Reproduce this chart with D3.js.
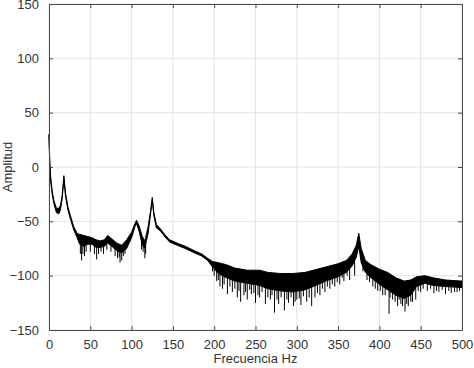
<!DOCTYPE html>
<html>
<head>
<meta charset="utf-8">
<script src="https://cdn.jsdelivr.net/npm/d3@7"></script>
<style>
  body { margin: 0; background: #fff; }
  svg text { font-family: "Liberation Sans", Arial, sans-serif; fill: #333; }
</style>
</head>
<body>
<div id="vis"></div>
<script>
var WIDTH = 474
var HEIGHT = 368

// spectrum envelope (Hz, upper dB, lower dB)
var freqs = [0, 1, 2, 4, 6, 9, 12, 14, 16, 18, 20, 23, 26, 30, 34, 37, 42, 47, 52, 57, 62, 67, 71, 76, 82, 88, 94, 100,
  104, 106, 109, 113, 116, 120, 123, 125, 127, 130, 135, 140, 146, 155, 165, 176, 185, 192, 198, 205, 215, 225, 240,
  255, 265, 280, 295, 310, 320, 335, 350, 360, 367, 372, 375, 378, 383, 390, 400, 410, 420, 430, 438, 445, 455, 465, 480, 500];
var upper = [30, 5, -9, -23, -31, -38, -38, -35, -26, -8, -24, -37, -45, -55, -61, -62, -63, -64, -65, -67, -68, -67, -63, -66, -70, -72, -67, -60,
  -52, -49, -54, -64, -68, -55, -40, -28, -42, -53, -57, -62, -67, -70, -73, -77, -80, -84, -87, -88, -90, -93, -95,
  -95, -97, -98, -98, -97, -95, -92, -89, -86, -80, -72, -61, -75, -86, -90, -94, -97, -102, -105, -104, -101, -100, -102, -104, -105];
var lower = [26, 1, -13, -26, -34, -42, -43, -39, -29, -11, -27, -40, -48, -58, -65, -71, -73, -71, -71, -74, -74, -73, -70, -73, -77, -79, -75, -65,
  -55, -52, -59, -72, -75, -61, -43, -31, -45, -56, -59, -64, -69, -72, -75, -79, -82, -86, -92, -98, -102, -105, -107,
  -109, -112, -114, -115, -113, -110, -105, -101, -97, -91, -83, -73, -88, -97, -102, -108, -113, -118, -121, -118, -110, -107, -109, -110, -111];

// downward noise spikes (Hz, depth dB)
var spikeFreq = [38, 39.5, 41, 43, 45, 50, 55, 57.7, 60, 63, 66, 70, 75, 80, 83, 85, 86, 88, 90, 92, 112, 114, 116, 117,
  198, 200, 203, 205, 207, 210, 212, 216, 219, 222, 225, 228, 230, 232, 236, 238, 240, 243, 245, 248, 250, 253, 255, 258,
  262, 265, 268, 270, 273, 276, 278, 281, 285, 288, 290, 293, 296, 298, 300, 303, 305, 308, 312, 315, 318, 322, 325,
  328, 331, 334, 337, 340, 343, 346, 349, 352, 355, 357, 361, 364, 370, 380, 385, 388, 392, 395, 398, 401, 404, 407,
  411.7, 413, 416, 419, 422, 424, 426, 428, 431, 433, 435, 438, 440, 444, 447, 450, 453, 458, 462, 466, 469, 472, 476,
  480, 484, 487, 491, 494, 497];
var spikeDepth = [-80, -86, -80, -82, -78, -78, -80, -85, -80, -78, -80, -76, -78, -82, -84, -83, -88, -86, -82, -80, -76, -78, -84, -80,
  -96, -100, -105, -104, -110, -112, -108, -117, -110, -115, -112, -120, -114, -124, -118, -115, -122, -113, -117, -116, -125, -118, -120, -115,
  -126, -120, -122, -118, -134, -122, -126, -120, -132, -122, -125, -120, -128, -124, -122, -121, -127, -119, -124, -120, -128, -120, -116,
  -118, -112, -115, -110, -112, -108, -110, -106, -108, -102, -105, -100, -104, -100, -96, -104, -106, -110, -112, -114, -114, -118, -118,
  -135, -120, -122, -124, -128, -122, -126, -128, -133, -126, -128, -124, -124, -122, -114, -115, -112, -114, -112, -116, -114, -115, -113,
  -117, -114, -116, -115, -115, -114];

var xTicks = [0, 50, 100, 150, 200, 250, 300, 350, 400, 450, 500];
var yTicks = [-150, -100, -50, 0, 50, 100, 150];

var margin = { left: 49, top: 4, right: 12, bottom: 38 };
var w = WIDTH - margin.left - margin.right;
var h = HEIGHT - margin.top - margin.bottom;

var svg = d3.select('#vis').append('svg')
  .attr('width', WIDTH)
  .attr('height', HEIGHT);

var g = svg.append('g')
  .attr('transform', 'translate(' + margin.left + ',' + margin.top + ')');

var x = d3.scaleLinear().domain([0, 500]).range([0, w]);
var y = d3.scaleLinear().domain([-150, 150]).range([h, 0]);

// grid
g.selectAll('line.gx').data(xTicks).enter().append('line')
  .attr('x1', d => x(d)).attr('x2', d => x(d))
  .attr('y1', 0).attr('y2', h)
  .attr('stroke', '#e3e3e3').attr('stroke-width', 1);
g.selectAll('line.gy').data(yTicks).enter().append('line')
  .attr('y1', d => y(d)).attr('y2', d => y(d))
  .attr('x1', 0).attr('x2', w)
  .attr('stroke', '#e3e3e3').attr('stroke-width', 1);

// spectrum band
var pts = freqs.map((f, i) => ({ f: f, hi: upper[i], lo: lower[i] }));
var area = d3.area()
  .x(d => x(d.f))
  .y0(d => y(d.lo))
  .y1(d => y(d.hi));

g.append('path')
  .datum(pts)
  .attr('d', area)
  .attr('fill', '#000')
  .attr('stroke', '#000')
  .attr('stroke-width', 1)
  .attr('stroke-linejoin', 'round');

// spikes hang from the band's lower edge
var loAt = d3.scaleLinear().domain(freqs).range(lower);
g.selectAll('line.spike')
  .data(spikeFreq.map((f, i) => ({ f: f, d: spikeDepth[i] })))
  .enter().append('line')
  .attr('x1', d => x(d.f)).attr('x2', d => x(d.f))
  .attr('y1', d => y(loAt(d.f)))
  .attr('y2', d => y(d.d))
  .attr('stroke', '#000')
  .attr('stroke-width', 1);

// axes (box with inward ticks)
var axisColor = '#4a4a4a';
var axBottom = g.append('g').attr('transform', 'translate(0,' + h + ')')
  .call(d3.axisBottom(x).tickValues(xTicks).tickSize(-4).tickPadding(10).tickFormat(d3.format('d')));
var axTop = g.append('g')
  .call(d3.axisTop(x).tickValues(xTicks).tickSize(-4).tickFormat(''));
var axLeft = g.append('g')
  .call(d3.axisLeft(y).tickValues(yTicks).tickSize(-4).tickPadding(10).tickFormat(d3.format('d')));
var axRight = g.append('g').attr('transform', 'translate(' + w + ',0)')
  .call(d3.axisRight(y).tickValues(yTicks).tickSize(-4).tickFormat(''));

[axBottom, axTop, axLeft, axRight].forEach(a => {
  a.selectAll('path').attr('stroke', axisColor).attr('stroke-width', 1);
  a.selectAll('line').attr('stroke', axisColor);
  a.selectAll('text').attr('font-size', 13).attr('fill', '#333')
    .style('font-family', '"Liberation Sans", Arial, sans-serif');
});

svg.append('text')
  .attr('x', margin.left + w / 2)
  .attr('y', 363)
  .attr('text-anchor', 'middle')
  .attr('font-size', 13)
  .text('Frecuencia Hz');

svg.append('text')
  .attr('transform', 'translate(12,' + (margin.top + h / 2) + ') rotate(-90)')
  .attr('text-anchor', 'middle')
  .attr('font-size', 13)
  .text('Amplitud');
</script>
</body>
</html>
